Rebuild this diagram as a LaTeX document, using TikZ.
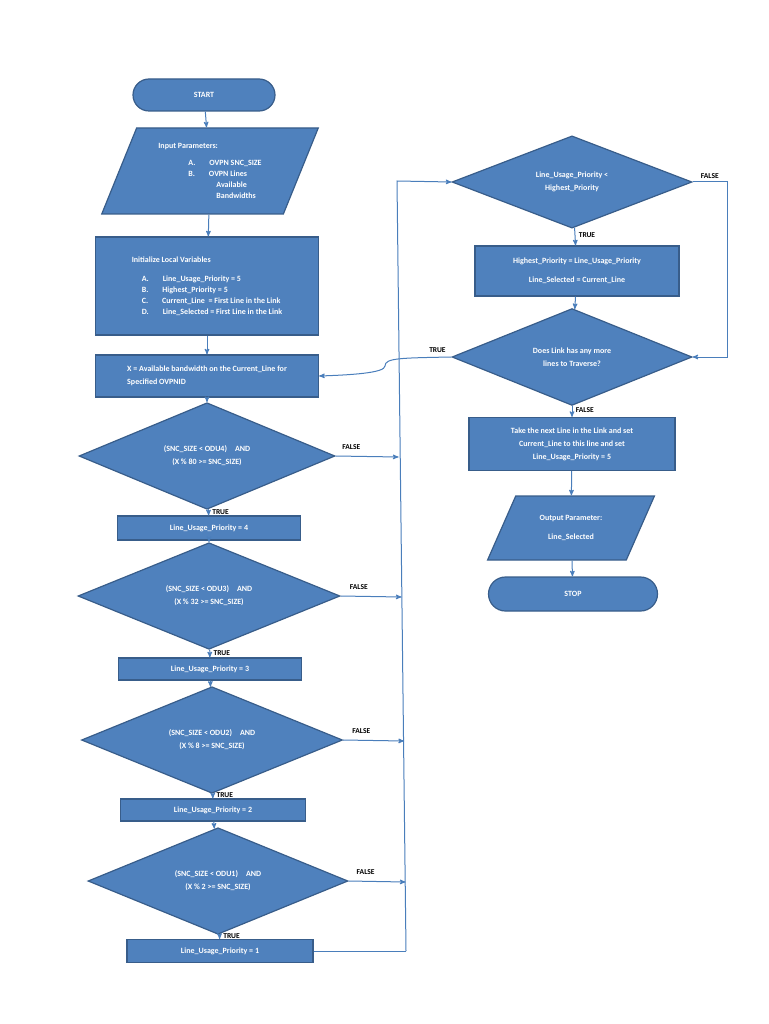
\documentclass[tikz,border=0pt]{standalone}
\usepackage{fontspec}
\setmainfont{Carlito}
\usetikzlibrary{shapes.geometric}
\usetikzlibrary{shapes.misc}
\usetikzlibrary{positioning}
\usetikzlibrary{arrows}
\definecolor{boxblue}{HTML}{4F81BD}
\definecolor{boxline}{HTML}{385D8A}
\definecolor{arrowblue}{HTML}{4A7EBB}
\tikzset{
  block/.style = {draw=boxline, line width=1.2pt, fill=boxblue, text=white,
    font=\fontsize{8}{13}\selectfont\bfseries, align=center, inner sep=2pt},
  box/.style = {block, rectangle},
  cond/.style = {block, diamond, inner sep=0pt},
  term/.style = {block, rounded rectangle},
  io/.style = {block, trapezium, trapezium stretches=true},
  flow/.style = {arrowblue, line width=1pt, ->, >=stealth'},
  tag/.style = {font=\fontsize{7.5}{9}\selectfont\bfseries, black},
}
\begin{document}
\begin{tikzpicture}[x=1pt,y=-1pt]
\useasboundingbox (0,0) rectangle (768,1024);
% left column
\node [term, minimum width=146, minimum height=32] (start) at (204,95) {START};
\node [io, trapezium left angle=66.7, trapezium right angle=113.3,
  minimum width=217, minimum height=86, align=left] (input) at (210,171)
  {Input Parameters:\\[4pt]
   \hspace*{30pt}A.\hspace{14pt}OVPN SNC\_SIZE\\[-2pt]
   \hspace*{30pt}B.\hspace{14pt}OVPN Lines\\[-2pt]
   \hspace*{58pt}Available\\[-2pt]
   \hspace*{58pt}Bandwidths};
\node [box, minimum width=223, minimum height=98, align=left] (init) at (207,286)
  {Initialize Local Variables\\[6pt]
   \hspace*{10pt}A.\hspace{14pt}Line\_Usage\_Priority = 5\\[-2pt]
   \hspace*{10pt}B.\hspace{14pt}Highest\_Priority = 5\\[-2pt]
   \hspace*{10pt}C.\hspace{14pt}Current\_Line\ \ = First Line in the Link\\[-2pt]
   \hspace*{10pt}D.\hspace{14pt}Line\_Selected = First Line in the Link};
\node [box, minimum width=223, minimum height=42, align=left] (avail) at (207,376)
  {X = Available bandwidth on the Current\_Line for\\Specified OVPNID};
\node [cond, minimum width=256, minimum height=76] (odu4) at (207,456)
  {(SNC\_SIZE < ODU4)\quad AND\\(X \% 80 >= SNC\_SIZE)};
\node [box, minimum width=183, minimum height=24] (prio4) at (209,528)
  {Line\_Usage\_Priority = 4};
\node [cond, minimum width=262, minimum height=71] (odu3) at (209,596)
  {(SNC\_SIZE < ODU3)\quad AND\\(X \% 32 >= SNC\_SIZE)};
\node [box, minimum width=183, minimum height=22] (prio3) at (210,669)
  {Line\_Usage\_Priority = 3};
\node [cond, minimum width=261, minimum height=72] (odu2) at (212,740)
  {(SNC\_SIZE < ODU2)\quad AND\\(X \% 8 >= SNC\_SIZE)};
\node [box, minimum width=185, minimum height=22] (prio2) at (213,810)
  {Line\_Usage\_Priority = 2};
\node [cond, minimum width=260, minimum height=72] (odu1) at (218,881)
  {(SNC\_SIZE < ODU1)\quad AND\\(X \% 2 >= SNC\_SIZE)};
\node [box, minimum width=186, minimum height=23] (prio1) at (220,951)
  {Line\_Usage\_Priority = 1};
% right column
\node [cond, minimum width=240, minimum height=84] (check) at (572,182)
  {Line\_Usage\_Priority <\\Highest\_Priority};
\node [box, minimum width=204, minimum height=50] (update) at (577,271)
  {Highest\_Priority = Line\_Usage\_Priority\\[6pt]Line\_Selected = Current\_Line};
\node [cond, minimum width=240, minimum height=78] (more) at (572,357)
  {Does Link has any more\\lines to Traverse?};
\node [box, minimum width=206, minimum height=53] (next) at (572,444)
  {Take the next Line in the Link and set\\Current\_Line to this line and set\\Line\_Usage\_Priority = 5};
\node [io, trapezium left angle=60, trapezium right angle=120,
  minimum width=168, minimum height=64] (output) at (571,528)
  {Output Parameter:\\[6pt]Line\_Selected};
\node [term, minimum width=173, minimum height=34] (stop) at (573,594) {STOP};
% bus line
\coordinate (busbot) at (406,951);
\coordinate (bustop) at (397,181);
% connectors
\draw [flow] (start) -- (input);
\draw [flow] (input) -- (init);
\draw [flow] (init) -- (avail);
\draw [flow] (avail) -- (odu4);
\draw [flow] (odu4) -- node [tag, right, pos=0.4] {TRUE} (prio4);
\draw [flow] (prio4) -- (odu3);
\draw [flow] (odu3) -- node [tag, right, pos=0.4] {TRUE} (prio3);
\draw [flow] (prio3) -- (odu2);
\draw [flow] (odu2) -- node [tag, right, pos=0.4] {TRUE} (prio2);
\draw [flow] (prio2) -- (odu1);
\draw [flow] (odu1) -- node [tag, right, pos=0.4] {TRUE} (prio1);
\draw [flow] (odu4.east) -- node [tag, above=3pt, pos=0.25] {FALSE} (398.5,457);
\draw [flow] (odu3.east) -- node [tag, above=3pt, pos=0.3] {FALSE} (401.5,597);
\draw [flow] (odu2.east) -- node [tag, above=3pt, pos=0.3] {FALSE} (404,741);
\draw [flow] (odu1.east) -- node [tag, above=3pt, pos=0.3] {FALSE} (405.5,882);
\draw [flow, -] (prio1.east) -- (busbot);
\draw [flow] (busbot) -- (bustop) -- (check.west);
\draw [flow] (check) -- node [tag, right, pos=0.4] {TRUE} (update);
\draw [flow] (update) -- (more);
\draw [flow] (check.east) -- node [tag, above, pos=0.5] {FALSE} (727,182) |- (more.east);
\draw [flow] (more.west) node [tag, above left=1pt and 2pt] {TRUE}
  .. controls (400,358) and (385,358) .. (385,366)
  .. controls (385,373) and (350,375) .. (avail.east);
\draw [flow] (more) -- node [tag, right, pos=0.4] {FALSE} (next);
\draw [flow] (next) -- (output);
\draw [flow] (output) -- (stop);
\end{tikzpicture}
\end{document}
